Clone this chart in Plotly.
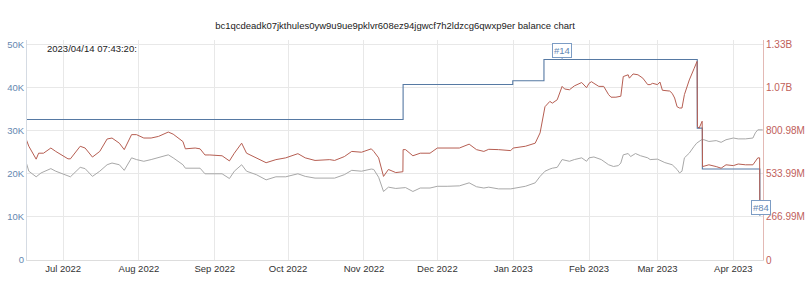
import plotly.graph_objects as go

# ---- data ----
title_text = "bc1qcdeadk07jkthules0yw9u9ue9pklvr608ez94jgwcf7h2ldzcg6qwxp9er balance chart"
stamp_text = "2023/04/14 07:43:20:"

# balance (BTC), step line, left axis
bal_dates = ["2022-06-16", "2022-11-17", "2022-12-31 20:00", "2023-01-13 14:00",
             "2023-03-17 06:00", "2023-03-19 08:00", "2023-04-11 20:00"]
bal_btc = [32600, 40700, 41600, 46500, 30600, 21100, 10300]

# BTC price (USD), left axis
price_dates = ["2022-06-16", "2022-06-17", "2022-06-20", "2022-06-22", "2022-06-26", "2022-06-28",
               "2022-07-04", "2022-07-08", "2022-07-10", "2022-07-13", "2022-07-16", "2022-07-19",
               "2022-07-21", "2022-07-24", "2022-07-26", "2022-07-29", "2022-07-31", "2022-08-03",
               "2022-08-06", "2022-08-09", "2022-08-13", "2022-08-15", "2022-08-19", "2022-08-20",
               "2022-08-24", "2022-08-26", "2022-08-28", "2022-08-30", "2022-09-04", "2022-09-07",
               "2022-09-09", "2022-09-12", "2022-09-14", "2022-09-18", "2022-09-22", "2022-09-26",
               "2022-09-30", "2022-10-05", "2022-10-08", "2022-10-12", "2022-10-18", "2022-10-20",
               "2022-10-24", "2022-10-27", "2022-10-31", "2022-11-04", "2022-11-05", "2022-11-07",
               "2022-11-09", "2022-11-11", "2022-11-14", "2022-11-18", "2022-11-21", "2022-11-24",
               "2022-11-28", "2022-12-01", "2022-12-05", "2022-12-10", "2022-12-14", "2022-12-17",
               "2022-12-20", "2022-12-22", "2022-12-26", "2022-12-31", "2023-01-06", "2023-01-10",
               "2023-01-12", "2023-01-14", "2023-01-16", "2023-01-17", "2023-01-19", "2023-01-21",
               "2023-01-24", "2023-01-26", "2023-01-29", "2023-01-31", "2023-02-01", "2023-02-03",
               "2023-02-06", "2023-02-09", "2023-02-11", "2023-02-13", "2023-02-14", "2023-02-15",
               "2023-02-17", "2023-02-18", "2023-02-20", "2023-02-22", "2023-02-25", "2023-02-26",
               "2023-03-01", "2023-03-04", "2023-03-07", "2023-03-09", "2023-03-10", "2023-03-11",
               "2023-03-12", "2023-03-14", "2023-03-16", "2023-03-17", "2023-03-19", "2023-03-20",
               "2023-03-22", "2023-03-25", "2023-03-27", "2023-03-29", "2023-04-01", "2023-04-03",
               "2023-04-06", "2023-04-09", "2023-04-10", "2023-04-11", "2023-04-13"]
price_usd = [22500, 20600, 19300, 20200, 21200, 20600,
             19300, 21500, 21200, 19400, 20600, 22100,
             22500, 22100, 20800, 23700, 23300, 22900,
             23300, 23700, 24400, 23700, 22100, 21300,
             21300, 21300, 20000, 20000, 20000, 18900,
             20600, 22100, 20600, 19800, 18600, 19300,
             19300, 20000, 19400, 19000, 19000, 19000,
             19800, 20800, 20600, 21100, 21000, 19200,
             15900, 16900, 16600, 16800, 15900, 16700,
             16700, 17100, 17100, 17200, 17900, 17000,
             16700, 16900, 16500, 16500, 17100, 17900,
             19400, 20600, 21100, 21300, 21500, 23300,
             22900, 23300, 23700, 22900, 23700, 23900,
             23300, 22100, 21700, 21900, 22500, 24400,
             24700, 24000, 24700, 24200, 23700, 23300,
             23400, 22600, 22100, 21000, 20200, 20600,
             23700, 24800, 26400, 27100, 27900, 27900,
             27500, 27700, 27300, 27900, 28300, 28100,
             28100, 28300, 29500, 30200, 30200]

# balance value (USD millions), right axis
value_dates = ["2022-06-16", "2022-06-17", "2022-06-20", "2022-06-21", "2022-06-23", "2022-06-26",
               "2022-06-28", "2022-07-03", "2022-07-04", "2022-07-08", "2022-07-10", "2022-07-13",
               "2022-07-16", "2022-07-19", "2022-07-21", "2022-07-24", "2022-07-26", "2022-07-29",
               "2022-07-31", "2022-08-03", "2022-08-06", "2022-08-09", "2022-08-13", "2022-08-15",
               "2022-08-19", "2022-08-20", "2022-08-24", "2022-08-26", "2022-08-28", "2022-08-30",
               "2022-09-04", "2022-09-07", "2022-09-09", "2022-09-12", "2022-09-14", "2022-09-18",
               "2022-09-22", "2022-09-26", "2022-09-30", "2022-10-05", "2022-10-08", "2022-10-12",
               "2022-10-18", "2022-10-20", "2022-10-24", "2022-10-27", "2022-10-31", "2022-11-04",
               "2022-11-05", "2022-11-07", "2022-11-09", "2022-11-11", "2022-11-14", "2022-11-16 22:00",
               "2022-11-17 00:00", "2022-11-18", "2022-11-21", "2022-11-24", "2022-11-28", "2022-12-01",
               "2022-12-05", "2022-12-10", "2022-12-14", "2022-12-17", "2022-12-20", "2022-12-22",
               "2022-12-26", "2022-12-31", "2023-01-01", "2023-01-06", "2023-01-10", "2023-01-12",
               "2023-01-14", "2023-01-16", "2023-01-17", "2023-01-19", "2023-01-21", "2023-01-22",
               "2023-01-24", "2023-01-26", "2023-01-29", "2023-01-31", "2023-02-01", "2023-02-02",
               "2023-02-03", "2023-02-05", "2023-02-07", "2023-02-09", "2023-02-10", "2023-02-12",
               "2023-02-14", "2023-02-14 12:00", "2023-02-15", "2023-02-17", "2023-02-17 12:00", "2023-02-19",
               "2023-02-21", "2023-02-23", "2023-02-25", "2023-02-26", "2023-02-27", "2023-03-01",
               "2023-03-02", "2023-03-03", "2023-03-06", "2023-03-07", "2023-03-08", "2023-03-09",
               "2023-03-10", "2023-03-11", "2023-03-12", "2023-03-14", "2023-03-15", "2023-03-16",
               "2023-03-17 04:00", "2023-03-17 08:00", "2023-03-18", "2023-03-19 06:00", "2023-03-19 10:00", "2023-03-22",
               "2023-03-25", "2023-03-27", "2023-03-29", "2023-04-01", "2023-04-03", "2023-04-06",
               "2023-04-09", "2023-04-10", "2023-04-11", "2023-04-11 18:00", "2023-04-11 20:00"]
value_musd = [745, 705, 625, 662, 662, 694,
              673, 627, 627, 705, 694, 638,
              673, 750, 756, 724, 684, 777,
              777, 756, 756, 766, 793, 780,
              734, 689, 694, 689, 651, 651,
              646, 614, 662, 724, 662, 633,
              603, 622, 633, 659, 633, 617,
              622, 617, 641, 673, 668, 689,
              673, 633, 518, 561, 542, 547,
              684, 684, 646, 662, 662, 694,
              694, 694, 718, 684, 673, 686,
              684, 678, 694, 705, 724, 788,
              950, 983, 972, 993, 1076, 1060,
              1055, 1079, 1100, 1068, 1095, 1105,
              1095, 1076, 1076, 1025, 1009, 1009,
              1015, 1076, 1137, 1148, 1127, 1153,
              1148, 1127, 1087, 1087, 1095, 1087,
              1103, 1052, 1047, 1033, 1004, 950,
              942, 942, 1025, 1116, 1148, 1188,
              1231, 828, 817, 860, 579, 590,
              579, 569, 590, 585, 595, 590,
              590, 611, 633, 633, 294]

left_tickvals = [0, 10000, 20000, 30000, 40000, 50000]
left_ticktext = ["0", "10K", "20K", "30K", "40K", "50K"]
right_tickvals = [0, 266.99, 533.99, 800.98, 1067.97, 1334.96]
right_ticktext = ["0", "266.99M", "533.99M", "800.98M", "1.07B", "1.33B"]

marks = [("#14", "2023-01-21", 46500, 0, -9), ("#84", "2023-04-11 20:00", 10300, 1, -8)]

# ---- styling ----
BLUE = "#5679a3"
RED = "#b65e52"
GREY = "#a8a8a8"
FONT = "Liberation Sans, Arial, Helvetica, sans-serif"

fig = go.Figure()
fig.add_trace(go.Scatter(x=price_dates, y=price_usd, mode="lines",
                         line=dict(color=GREY, width=1), yaxis="y", hoverinfo="skip"))
fig.add_trace(go.Scatter(x=value_dates, y=value_musd, mode="lines",
                         line=dict(color=RED, width=1), yaxis="y2", hoverinfo="skip"))
fig.add_trace(go.Scatter(x=bal_dates, y=bal_btc, mode="lines", line_shape="hv",
                         line=dict(color=BLUE, width=1.1), yaxis="y", hoverinfo="skip"))

for txt, d, v, ax, ay in marks:
    fig.add_annotation(x=d, y=v, xref="x", yref="y", text=txt, showarrow=True,
                       arrowhead=0, arrowwidth=1, arrowcolor="#7c9cc4", ax=ax, ay=ay,
                       bordercolor="#7c9cc4", borderwidth=1, borderpad=1, bgcolor="white",
                       font=dict(family=FONT, size=9.5, color="#6487b3"))

fig.add_annotation(x=0.024, y=0.96, xref="paper", yref="paper", text=stamp_text,
                   showarrow=False, xanchor="left", yanchor="middle",
                   font=dict(family=FONT, size=9.5, color="#222"))

fig.update_layout(
    width=805, height=293,
    margin=dict(l=27, r=42, t=40, b=33, autoexpand=False),
    paper_bgcolor="white", plot_bgcolor="white",
    showlegend=False,
    font=dict(family=FONT, size=9.5, color="#333"),
    title=dict(text=title_text, x=0.5, xref="paper", y=1 - 26 / 293, yref="container",
               xanchor="center", yanchor="middle",
               font=dict(family=FONT, size=9.5, color="#222")),
    xaxis=dict(type="date", range=["2022-06-16 06:00", "2023-04-13 03:00"],
               tick0="2022-07-01", dtick="M1", tickformat="%b %Y",
               showgrid=True, gridcolor="#e8e8e8", gridwidth=1,
               showline=True, linecolor="#dddddd", zeroline=False,
               ticks="", tickfont=dict(family=FONT, size=9.5, color="#333")),
    yaxis=dict(range=[0, 51040], tickvals=left_tickvals, ticktext=left_ticktext,
               showgrid=True, gridcolor="#e8e8e8", showline=True, linecolor="#d5dbe3",
               zeroline=False, ticks="",
               tickfont=dict(family=FONT, size=9.5, color="#6688b0")),
    yaxis2=dict(range=[0, 1363.5], overlaying="y", side="right",
                tickvals=right_tickvals, ticktext=right_ticktext,
                showgrid=False, showline=True, linecolor="#e3b9b5", zeroline=False,
                ticks="", tickfont=dict(family=FONT, size=10, color="#c0605a")),
)

fig.write_html("out.html")
